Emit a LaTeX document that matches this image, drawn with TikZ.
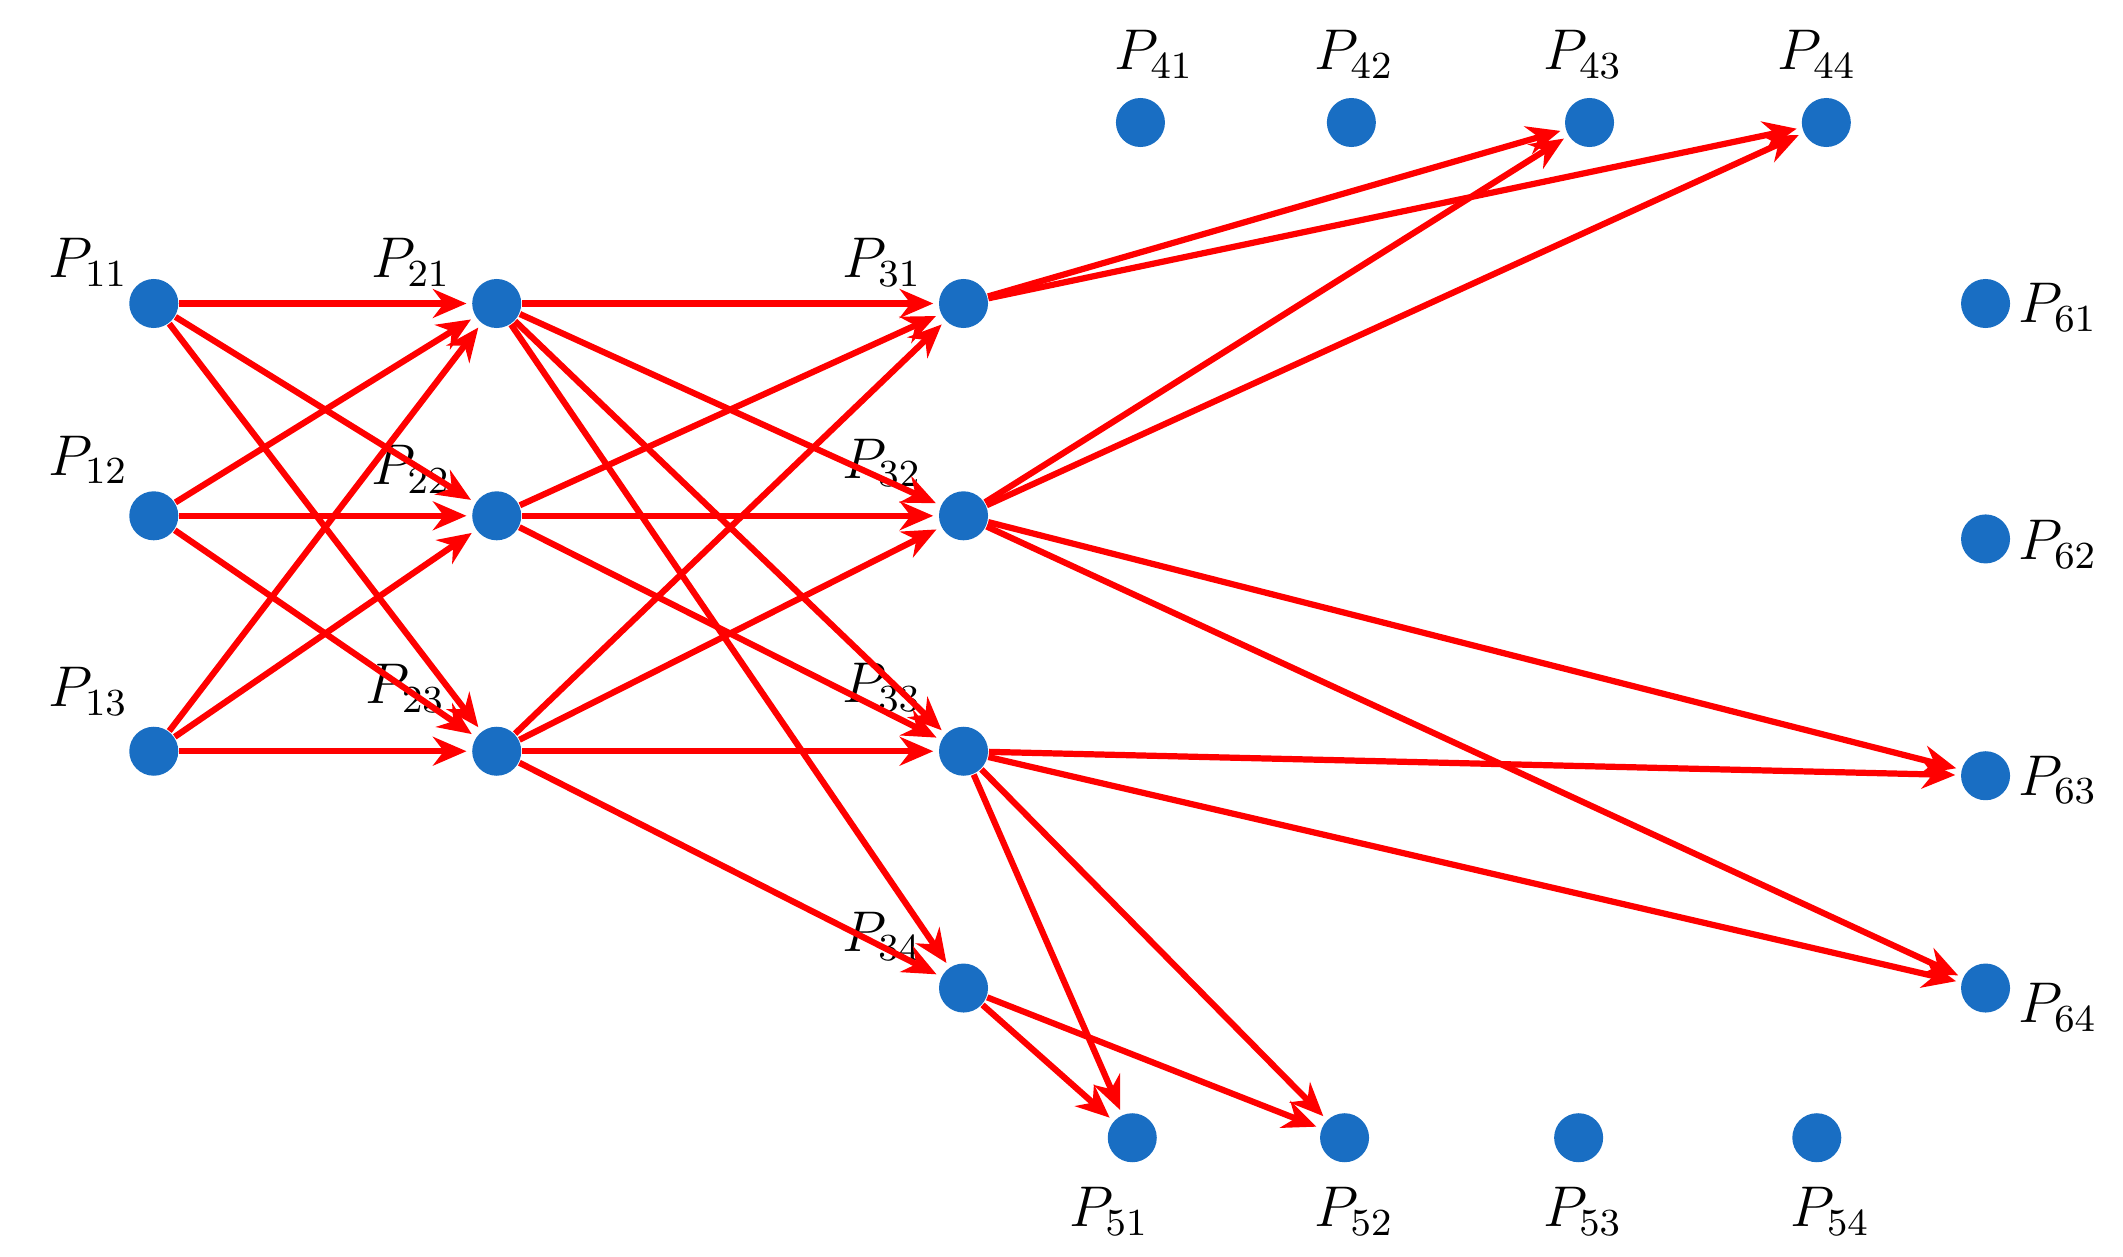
\documentclass[tikz,border=0pt]{standalone}
\usetikzlibrary{arrows.meta}
\begin{document}
\begin{tikzpicture}[x=0.01cm,y=-0.01cm,
  pt/.style={circle,fill={rgb,255:red,25;green,110;blue,195},minimum size=0.36cm,inner sep=0},
  lb/.style={font=\large},
  ar/.style={draw=red,line width=1.3pt,-{Stealth[length=7pt,width=6pt]},shorten >=1pt}]
\useasboundingbox (0,0) rectangle (1560,923);
\foreach \n/\x/\y in {11/113/223,12/113/379,13/113/552,21/365/223,22/365/379,23/365/552,
 31/708/223,32/708/379,33/708/552,34/708/726,41/838/90,42/993/90,43/1168/90,44/1342/90,
 51/832/836,52/988/836,53/1160/836,54/1335/836,61/1459/223,62/1459/396,63/1459/570,64/1459/726}
  \node[pt] (p\n) at (\x,\y) {};
\foreach \n/\x/\y in {11/65/193,12/65/338,13/65/508,21/302/193,22/302/345,23/298/506,
 31/648/193,32/648/340,33/648/505,34/648/688,41/848/40,42/995/40,43/1163/40,44/1335/40,
 51/815/890,52/995/890,53/1163/890,54/1345/890,61/1512/226,62/1512/400,63/1512/573,64/1512/740}
  \node[lb] (l\n) at (\x,\y) {$P_{\n}$};
\foreach \a/\b in {11/21,11/22,11/23,12/21,12/22,12/23,13/21,13/22,13/23,
 21/31,21/32,21/33,21/34,22/31,22/32,22/33,23/31,23/32,23/33,23/34,
 31/43,31/44,32/43,32/44,32/63,32/64,33/63,33/64,33/51,33/52,34/51,34/52}
  \draw[ar] (p\a) -- (p\b);
\end{tikzpicture}
\end{document}
